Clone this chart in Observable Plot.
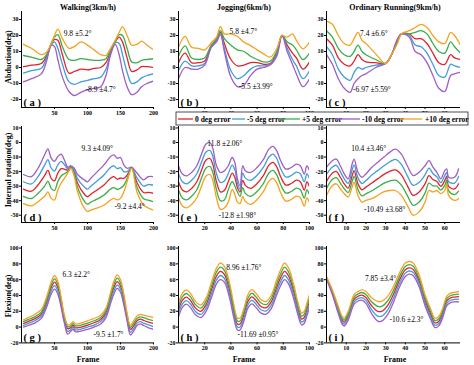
<!DOCTYPE html>
<html><head><meta charset="utf-8">
<script src="https://cdn.jsdelivr.net/npm/d3@7"></script>
<script src="https://cdn.jsdelivr.net/npm/@observablehq/plot@0.6"></script>
<style>
body{margin:0;background:#fff;}
#wrap{position:relative;width:474px;height:365px;overflow:hidden;background:#fff;}
#wrap svg{position:absolute;overflow:visible;}
</style></head><body><div id="wrap"></div>
<script>
// ---------- series ----------
const seriesNames = ["0 deg error", "-5 deg error", "+5 deg error", "-10 deg error", "+10 deg error"];
const seriesColors = ["#e3222b", "#3e9ed8", "#3bad4b", "#a05cc8", "#f5a21e"];

// ---------- tick labels ----------
const xTicksWalk = [50, 100, 150, 200];
const xTicksJog = [20, 40, 60, 80, 100];
const xTicksRun = [10, 20, 30, 40, 50, 60];
const yTicksAbd = [-20, -10, 0, 10, 20, 30];
const yTicksRot = [-50, -40, -30, -20, -10, 0, 10];
const yTicksFlex = [-20, 0, 20, 40, 60, 80, 100];

// ---------- (a) Abduction / Walking ----------
const framesA = [3, 15, 30, 38, 45, 50, 55, 62, 72, 80, 90, 100, 110, 120, 128, 135, 142, 148, 153, 160, 167, 175, 182, 190, 200];
const abdWalk0   = [0.5, 1.5, 2.5, 7, 14.5, 17.5, 17, 8, -3.5, -2.5, -1, -1.5, -0.5, 0, 3, 10, 16, 19, 16, 6, -2.5, -1.5, 0.5, 0.5, 0];
const abdWalkM5  = [-3.5, -2, -0.5, 6, 14, 16, 12, 2, -9, -10.5, -9, -8, -7, -6, -1, 9, 15.5, 15, 8, -3, -10, -9, -6.5, -5, -4];
const abdWalkP5  = [7.5, 6.5, 5, 8, 15, 19, 20.5, 13, 5, 4.5, 5.5, 5, 4.5, 4.5, 5.5, 11, 16.5, 20.5, 20, 12, 3.5, 3, 4.5, 5, 5.5];
const abdWalkM10 = [-9, -7, -4, 4, 14, 13, 5, -6, -15, -17.5, -15.5, -14, -13, -12, -5, 8, 14.5, 8, -2, -12, -17, -15.5, -12, -10, -8.5];
const abdWalkP10 = [14.5, 12, 8, 9.5, 15, 20, 24, 18, 12, 13, 16, 14, 11, 8, 7.5, 12, 17, 22, 25.5, 20, 14, 14.5, 16.5, 14, 11];

// ---------- (b) Abduction / Jogging ----------
const framesB = [0, 5, 10, 15, 20, 25, 29, 32, 35, 40, 45, 50, 55, 60, 65, 70, 75, 79, 83, 87, 90, 95, 100];
const abdJog0   = [3, 9, 3, 3, 4, 13.5, 17, 22, 15, 5, 1, 1.5, 3, 3, 2, 2.5, 9, 20, 14, 9, 6, -1, 3.5];
const abdJogM5  = [-2, 4, 1, 1, 2.5, 13, 16.5, 21, 12, -2, -7, -5, -1, 1, 1, 2, 8, 20, 12, 5, 1, -7, -2];
const abdJogP5  = [7, 13.5, 6, 5, 6, 14, 18, 23, 18, 14, 11, 10, 7, 5, 3.5, 4, 10, 20, 16, 14, 11, 5, 9];
const abdJogM10 = [-7, 0, -1, -1, 1.5, 12.5, 16, 20.5, 10, -6, -12, -11, -5, -1, 0, 1.5, 7, 20, 10, 2, -4, -12, -7];
const abdJogP10 = [12.7, 19.4, 12.7, 12, 11, 15.5, 19, 25.6, 21, 21, 19.4, 15.8, 13.7, 11, 8.5, 6.5, 11.7, 20, 19, 21, 17, 11.7, 15.8];

// ---------- (c) Abduction / Ordinary running ----------
const framesC = [0, 3, 6, 9, 12, 14, 16, 18, 20, 25, 30, 33, 36, 38, 42, 45, 48, 51, 54, 57, 60, 63, 65, 68];
const abdRun0   = [18, 14, 6, 2, 1, 4, 8, 5, 3.5, 3, 2.5, 8, 17, 21, 21, 18, 18, 15, 9, 3, 2, 8, 6, 5];
const abdRunM5  = [13, 8, -1, -6, -8, -3, 0, -1, 0, 1.5, 2.5, 8, 17, 21, 20, 14, 13, 9, 2, -5, -6, 2, 1, 0];
const abdRunP5  = [23, 19, 12, 8, 7, 10, 14, 10, 8, 5, 2.5, 8, 16, 21, 21, 22, 23, 21, 15, 10, 9, 16, 13, 9];
const abdRunM10 = [8, 2, -7, -13, -15.5, -10, -7, -5, -4, 0, 2.5, 8, 18, 21, 19, 10, 8, 3, -5, -13, -15, -5, -4, -3];
const abdRunP10 = [29, 27, 20, 15, 14, 18, 22, 17, 15, 8.5, 2.5, 8, 15, 21, 23, 25, 27, 25, 20, 16, 15, 22, 20, 14];

// ---------- (d) Internal rotation / Walking ----------
const framesD = [3, 15, 25, 35, 40, 45, 50, 55, 60, 65, 70, 75, 80, 85, 95, 100, 105, 115, 125, 135, 140, 145, 150, 155, 160, 167, 175, 185, 192, 200];
const rotWalk0   = [-32, -33.5, -29.2, -22.8, -19.2, -24.6, -26.3, -21.1, -18, -18.3, -19, -16.9, -20.6, -28, -35.4, -37.3, -35.6, -32.5, -29.2, -24.6, -23.5, -25.2, -24.4, -24.7, -22.4, -17.4, -27.5, -34.4, -34.3, -35];
const rotWalkM5  = [-27, -28.5, -23.5, -15.6, -11.8, -17.7, -19.6, -15.4, -13, -15.2, -18, -16.4, -19.2, -25, -30.5, -32.1, -30.1, -26.3, -22.3, -17.1, -16, -18, -17.3, -20, -20, -17.2, -24.3, -30, -28.9, -29.3];
const rotWalkP5  = [-37, -38.5, -35, -30, -26.6, -31.5, -33, -26.9, -23, -21.5, -20, -17.3, -22, -31, -40.2, -42.4, -41, -38.8, -36.1, -32, -31, -32.3, -31.4, -29.4, -24.7, -17.5, -30.8, -38.7, -39.6, -40.8];
const rotWalkM10 = [-22, -23.5, -17.7, -8.5, -4.4, -10.8, -13, -9.6, -8, -12, -17, -16, -17.7, -22, -25.7, -27, -24.6, -20, -15.4, -9.6, -8.5, -10.8, -10.3, -15.4, -17.7, -17, -21, -25.7, -23.5, -23.5];
const rotWalkP10 = [-42, -43.5, -40.7, -37, -34, -38.4, -39.5, -32.6, -28, -24.6, -21, -17.7, -23.5, -34, -45, -47.5, -46.5, -45, -43, -39.5, -38.4, -39.5, -38.4, -34, -27, -17.7, -34, -43, -45, -46.5];

// ---------- (e) Internal rotation / Jogging ----------
const framesE = [0, 3, 6, 10, 14, 18, 21, 24, 26, 29, 32, 35, 38, 41, 43, 45, 47, 49, 51, 55, 60, 65, 69, 72, 75, 78, 82, 86, 90, 93, 96, 98, 100];
const rotJog0   = [-27, -32.7, -34, -31.6, -27, -18, -12, -11, -14.5, -27, -34, -33, -27, -21, -24, -31, -34, -26, -29.5, -31.6, -28.2, -22.4, -15.6, -13.7, -16.7, -23.6, -29.3, -28.2, -25.9, -27, -32.7, -27, -30.5];
const rotJogM5  = [-21.5, -27, -28.5, -26, -21.5, -12.5, -6.5, -5.5, -9, -21.5, -27.5, -26.5, -21.5, -15.5, -18.5, -28, -32, -21, -24.5, -26, -22.5, -16.8, -10, -8, -11, -18, -23.8, -22.7, -20.4, -21.5, -27, -21.5, -25];
const rotJogP5  = [-32.5, -38.2, -39.5, -37, -32.5, -23.4, -17.5, -16.5, -20, -32.5, -40, -39.5, -32.5, -26.8, -30, -34, -37, -31, -35, -37, -33.7, -27.9, -21, -19.2, -22.2, -29, -34.8, -33.7, -31.4, -32.5, -38.2, -32.5, -36];
const rotJogM10 = [-16, -21.7, -23, -20.6, -16, -6.9, -1, 0, -3.4, -16, -20.6, -19.5, -16, -10.3, -13.7, -25, -29.7, -16, -19.5, -20.6, -17.2, -11.4, -4.6, -2.7, -5.7, -12.6, -18.3, -17.2, -14.9, -16, -21.7, -16, -19.5];
const rotJogP10 = [-38, -43.7, -45, -42.6, -38, -29, -23, -22, -25.4, -38, -46, -45, -41, -32.3, -35.7, -41, -42, -37, -40.5, -42.6, -39.2, -33.4, -26.6, -24.7, -27.7, -34.6, -40.3, -39.2, -36.9, -38, -43.7, -38, -41.5];

// ---------- (f) Internal rotation / Ordinary running ----------
const framesF = [0, 3, 5, 7, 9, 11, 13, 14, 16, 18, 20, 23, 26, 29, 32, 35, 38, 41, 44, 47, 50, 52, 54, 56, 58, 60, 61, 62, 65, 67];
const rotRun0   = [-26.7, -21, -19.9, -23.9, -28.4, -31.3, -22.8, -19.4, -28.5, -32.5, -30.7, -27.8, -25, -22.1, -19.9, -18.8, -22.2, -29.6, -36.4, -34.1, -28.5, -22.8, -25.5, -26.8, -30.1, -26.2, -23.3, -30.2, -31.9, -28.4];
const rotRunM5  = [-21.9, -16.8, -15.7, -20, -25, -28.1, -18.8, -15.4, -24.5, -28.2, -26.2, -22.4, -19.3, -16.2, -13.4, -11.6, -15.1, -22.8, -29.5, -27.3, -22.3, -17.6, -21.3, -23.6, -27.6, -22.7, -20.8, -27, -27.9, -23.3];
const rotRunP5  = [-31.6, -25.3, -24.2, -27.9, -31.8, -34.4, -26.7, -23.3, -32.4, -36.7, -35.3, -33.2, -30.7, -28.1, -26.5, -25.9, -29.3, -36.4, -43.2, -40.9, -34.8, -27.9, -29.8, -29.9, -32.7, -29.6, -25.9, -33.3, -35.8, -33.5];
const rotRunM10 = [-17, -12.5, -11.4, -16, -21.6, -25, -14.8, -11.4, -20.5, -23.9, -21.6, -17, -13.6, -10.2, -6.8, -4.5, -8, -16, -22.7, -20.5, -16, -12.5, -17, -20.5, -25, -19.3, -18.2, -23.9, -23.9, -18.2];
const rotRunP10 = [-36.4, -29.5, -28.4, -31.8, -35.2, -37.5, -30.7, -27.3, -36.4, -41, -39.8, -38.6, -36.4, -34, -33, -33, -36.4, -43.2, -50, -47.7, -41, -33, -34, -33, -35.2, -33, -28.4, -36.4, -39.8, -38.6];

// ---------- (g) Flexion / Walking ----------
const framesG = [3, 10, 20, 30, 38, 45, 50, 55, 60, 65, 70, 75, 78, 82, 90, 100, 110, 120, 128, 135, 140, 145, 150, 155, 160, 165, 170, 175, 180, 185, 190, 200];
const flexWalk0   = [4.5, 7, 10.5, 16.5, 31, 50, 57, 50, 31, 10, -2, -0.5, 2, -1, 0, 2.5, 5.5, 9.5, 18, 37, 50, 57.5, 52, 35, 13, -3, 1.5, 8, 10, 8.5, 7, 4.5];
const flexWalkM5  = [2, 4.5, 8, 14, 28, 46, 52.5, 46, 28, 7.5, -5.5, -3, -0.5, -3.5, -2.5, 0, 2.5, 7, 15, 33.5, 46, 53, 48, 31.5, 10.5, -6.5, -2, 5, 7, 5, 3.5, 0.5];
const flexWalkP5  = [7, 9.5, 13, 19, 34.5, 53.5, 61, 54, 34.5, 12.5, 0.5, 2, 4.5, 1.5, 2.5, 5, 8, 12, 21, 40.5, 54, 62, 56, 38.5, 15.5, -0.5, 5, 11, 13, 12, 10.5, 8];
const flexWalkM10 = [0, 2, 5, 11, 25, 42, 48, 42, 25, 5, -9, -5, -3, -6, -5, -3, 0, 4, 12, 30, 42, 49, 44, 28, 8, -10, -5, 2, 4, 2, 0, -3];
const flexWalkP10 = [9, 12, 16, 22, 38, 57, 65, 58, 38, 15, 3, 4, 7, 4, 5, 8, 11, 15, 24, 44, 58, 66, 60, 42, 18, 2, 8, 14, 16, 15, 14, 12];

// ---------- (h) Flexion / Jogging ----------
const framesH = [0, 3, 6, 9, 13, 17, 21, 25, 29, 32, 35, 39, 42, 45, 47, 50, 53, 56, 59, 63, 67, 71, 75, 78, 81, 84, 88, 91, 94, 96, 98, 100];
const flexJog0   = [21.5, 34, 38, 34, 24, 20, 28.2, 46.2, 64.7, 70.5, 66.8, 46.2, 21.9, 3.9, 3.9, 16, 32.5, 38.3, 34, 26.1, 24.5, 32.5, 50.5, 62.6, 70.5, 64.7, 44.6, 24.5, 10.2, 12.3, 22.4, 32.5];
const flexJogM5  = [17.3, 29.5, 33.5, 29.5, 19.8, 16, 24, 41.5, 59.7, 65.3, 61.8, 41.5, 17.7, 0.2, 0.2, 12, 28.3, 33.8, 29.5, 21.9, 20.5, 28.3, 45.8, 57.6, 65.3, 59.7, 40.1, 20.5, 6.5, 8.6, 18.4, 28.3];
const flexJogP5  = [25.8, 38.5, 42.5, 38.5, 28.3, 24, 32.5, 51, 69.7, 75.8, 71.8, 51, 26.2, 7.7, 7.7, 20, 36.8, 42.8, 38.5, 30.4, 28.5, 36.8, 55.3, 67.6, 75.8, 69.7, 49.1, 28.5, 14, 16, 26.4, 36.8];
const flexJogM10 = [13, 25, 29, 25, 15.5, 12, 19.7, 36.7, 54.7, 60, 56.8, 36.7, 13.4, -3.6, -3.6, 8, 24, 29.3, 25, 17.6, 16.5, 24, 41, 52.6, 60, 54.7, 35.6, 16.5, 2.7, 4.8, 14.4, 24];
const flexJogP10 = [30, 43, 47, 43, 32.5, 28, 36.7, 55.7, 74.7, 81, 76.8, 55.7, 30.4, 11.4, 11.4, 24, 41, 47.3, 43, 34.6, 32.5, 41, 60, 72.6, 81, 74.7, 53.6, 32.5, 17.7, 19.8, 30.4, 41];

// ---------- (i) Flexion / Ordinary running ----------
const framesI = [0, 3, 6, 8, 9, 11, 14, 16, 18, 20, 23, 26, 28, 31, 34, 37, 40, 42, 44, 47, 50, 53, 55, 57, 59, 61, 63, 65, 67];
const flexRun0   = [62.5, 44, 21.5, 8.5, 6.4, 14.3, 35, 39, 40.5, 37.5, 26.7, 20, 20, 27.3, 41.5, 59.4, 72.5, 75, 73, 58.5, 34, 15.5, 5.4, 7.5, 18, 32.8, 37, 38, 38.5];
const flexRunM5  = [61.8, 42.5, 19.3, 6, 3.9, 11.8, 32, 36, 37.3, 33.8, 21.7, 13.8, 13.8, 21.6, 36.5, 54.9, 68.3, 71, 69, 54.8, 30.5, 12.3, 2.4, 4.5, 15, 29.8, 34, 35, 35.3];
const flexRunP5  = [63.2, 45.5, 23.8, 11, 8.9, 17, 38, 42, 43.8, 41.2, 31.7, 26.2, 26.2, 33, 46.5, 63.9, 76.8, 79, 77, 62.2, 37.5, 18.8, 8.4, 10.5, 21, 35.8, 40, 41, 41.8];
const flexRunM10 = [61, 41, 17, 3.5, 1.4, 8.8, 29, 33, 34, 30, 16.7, 7.5, 7.5, 15.8, 31.5, 50.4, 64, 67, 65, 51, 27, 9, -0.6, 1.5, 12, 26.8, 31, 32, 32];
const flexRunP10 = [64, 47, 26, 13.5, 11.4, 19.8, 41, 45, 47, 45, 36.7, 32.5, 32.5, 38.8, 51.5, 68.4, 81, 83, 81, 66, 41, 22, 11.4, 13.5, 24, 38.8, 43, 44, 45];

// ---------- annotations ----------
const notesA = [{x: 64, y: 21.5, t: "9.8 ±5.2°"}, {x: 97, y: -13.5, t: "-8.9 ±4.7°"}];
const notesB = [{x: 39, y: 22.5, t: "5.8 ±4.7°"}, {x: 46, y: -12, t: "-5.5 ±3.99°"}];
const notesC = [{x: 17, y: 21, t: "7.4 ±6.6°"}, {x: 13.5, y: -14, t: "-6.97 ±5.59°"}];
const notesD = [{x: 91, y: -4.5, t: "9.3 ±4.09°"}, {x: 141, y: -44, t: "-9.2 ±4.4°"}];
const notesE = [{x: 22, y: -1, t: "11.8 ±2.06°"}, {x: 30.5, y: -50, t: "-12.8 ±1.98°"}];
const notesF = [{x: 12.5, y: -4.5, t: "10.4 ±3.46°"}, {x: 19, y: -46, t: "-10.49 ±3.68°"}];
const notesG = [{x: 62, y: 67, t: "6.3 ±2.2°"}, {x: 109, y: -10, t: "-9.5 ±1.7°"}];
const notesH = [{x: 36.5, y: 75, t: "8.96 ±1.76°"}, {x: 45, y: -9, t: "-11.69 ±0.95°"}];
const notesI = [{x: 19.5, y: 61, t: "7.85 ±3.4°"}, {x: 32, y: 10, t: "-10.6 ±2.3°"}];

const colTitles = ["Walking(3km/h)", "Jogging(6km/h)", "Ordinary Running(9km/h)"];
const rowTitles = ["Abduction(deg)", "Internal rotation(deg)", "Flexion(deg)"];
const panelTags = ["( a )", "( b )", "( c )", "( d )", "( e )", "( f )", "( g )", "( h )", "( i )"];

// ---------- layout ----------
const SERIF = "'Liberation Serif','Times New Roman',serif";
const cols = [
  {px: [21, 153], domain: [0, 200], ticks: xTicksWalk, cx: 88},
  {px: [178, 309], domain: [0, 100], ticks: xTicksJog, cx: 244},
  {px: [326, 460], domain: [0, 68], ticks: xTicksRun, cx: 395}
];
const rowsL = [
  {px: [11, 107], domain: [-25, 35], ticks: yTicksAbd, cy: 57},
  {px: [125.5, 221.5], domain: [-55, 11], ticks: yTicksRot, cy: 170},
  {px: [245.6, 342], domain: [-20, 102], ticks: yTicksFlex, cy: 296}
];
const panels = [
  {r: 0, c: 0, frames: framesA, values: [abdWalk0, abdWalkM5, abdWalkP5, abdWalkM10, abdWalkP10], notes: notesA},
  {r: 0, c: 1, frames: framesB, values: [abdJog0, abdJogM5, abdJogP5, abdJogM10, abdJogP10], notes: notesB},
  {r: 0, c: 2, frames: framesC, values: [abdRun0, abdRunM5, abdRunP5, abdRunM10, abdRunP10], notes: notesC},
  {r: 1, c: 0, frames: framesD, values: [rotWalk0, rotWalkM5, rotWalkP5, rotWalkM10, rotWalkP10], notes: notesD},
  {r: 1, c: 1, frames: framesE, values: [rotJog0, rotJogM5, rotJogP5, rotJogM10, rotJogP10], notes: notesE},
  {r: 1, c: 2, frames: framesF, values: [rotRun0, rotRunM5, rotRunP5, rotRunM10, rotRunP10], notes: notesF},
  {r: 2, c: 0, frames: framesG, values: [flexWalk0, flexWalkM5, flexWalkP5, flexWalkM10, flexWalkP10], notes: notesG},
  {r: 2, c: 1, frames: framesH, values: [flexJog0, flexJogM5, flexJogP5, flexJogM10, flexJogP10], notes: notesH},
  {r: 2, c: 2, frames: framesI, values: [flexRun0, flexRunM5, flexRunP5, flexRunM10, flexRunP10], notes: notesI}
];

const wrap = document.getElementById("wrap");
const ml = 26, mr = 8, mt = 6, mb = 12;

panels.forEach((p, k) => {
  const col = cols[p.c], row = rowsL[p.r];
  const data = [];
  seriesNames.forEach((name, i) => {
    p.values[i].forEach((v, j) => data.push({frame: p.frames[j], value: v, series: name}));
  });
  const chart = Plot.plot({
    width: col.px[1] - col.px[0] + ml + mr,
    height: row.px[1] - row.px[0] + mt + mb,
    marginLeft: ml, marginRight: mr, marginTop: mt, marginBottom: mb,
    style: {fontFamily: SERIF, fontSize: "6px", fontWeight: "bold", background: "transparent", overflow: "visible", color: "#000"},
    x: {domain: col.domain, ticks: col.ticks, tickSize: 2, tickPadding: 1, tickFormat: d => String(d), label: null},
    y: {domain: row.domain, ticks: row.ticks, tickSize: 2, tickPadding: 1, tickFormat: d => String(d), label: null},
    color: {domain: seriesNames, range: seriesColors},
    marks: [
      Plot.line(data, {x: "frame", y: "value", z: "series", stroke: "series", strokeWidth: 1.3, curve: "catmull-rom", clip: true}),
      Plot.ruleX([col.domain[0]], {stroke: "#000", strokeWidth: 1}),
      Plot.ruleY([row.domain[0]], {stroke: "#000", strokeWidth: 1}),
      Plot.text(p.notes, {x: "x", y: "y", text: "t", textAnchor: "start", fontSize: 7.5, fontWeight: "normal", fill: "#000"}),
      Plot.text([panelTags[k]], {text: d => d, frameAnchor: "bottom-left", dx: 2, dy: -2, lineAnchor: "bottom", textAnchor: "start", fontSize: 10.5, fontWeight: "bold", fill: "#000"})
    ]
  });
  chart.style.left = (col.px[0] - ml) + "px";
  chart.style.top = (row.px[0] - mt) + "px";
  wrap.appendChild(chart);
});

// ---------- titles & legend overlay ----------
const ov = d3.create("svg").attr("width", 474).attr("height", 365)
  .style("left", "0px").style("top", "0px")
  .attr("font-family", SERIF).attr("font-weight", "bold");
cols.forEach((c, i) => {
  ov.append("text").attr("x", c.cx).attr("y", 10).attr("text-anchor", "middle").attr("font-size", 8).text(colTitles[i]);
  ov.append("text").attr("x", c.cx).attr("y", 362).attr("text-anchor", "middle").attr("font-size", 8).text("Frame");
});
rowsL.forEach((r, i) => {
  ov.append("text").attr("transform", `translate(10.5,${r.cy}) rotate(-90)`).attr("text-anchor", "middle").attr("font-size", 8).text(rowTitles[i]);
});
const lg = ov.append("g");
lg.append("rect").attr("x", 176).attr("y", 112).attr("width", 292).attr("height", 13).attr("fill", "#fff").attr("stroke", "#222").attr("stroke-width", 0.8);
const legendPos = [[178, 193, 195], [232, 245, 247], [279, 300, 302], [335, 360, 362], [400, 422, 425]];
seriesNames.forEach((n, i) => {
  const [a, b, t] = legendPos[i];
  lg.append("line").attr("x1", a).attr("x2", b).attr("y1", 119).attr("y2", 119).attr("stroke", seriesColors[i]).attr("stroke-width", 1.3);
  lg.append("text").attr("x", t).attr("y", 121.5).attr("font-size", 7.5).text(n);
});
wrap.appendChild(ov.node());
</script>
</body></html>
